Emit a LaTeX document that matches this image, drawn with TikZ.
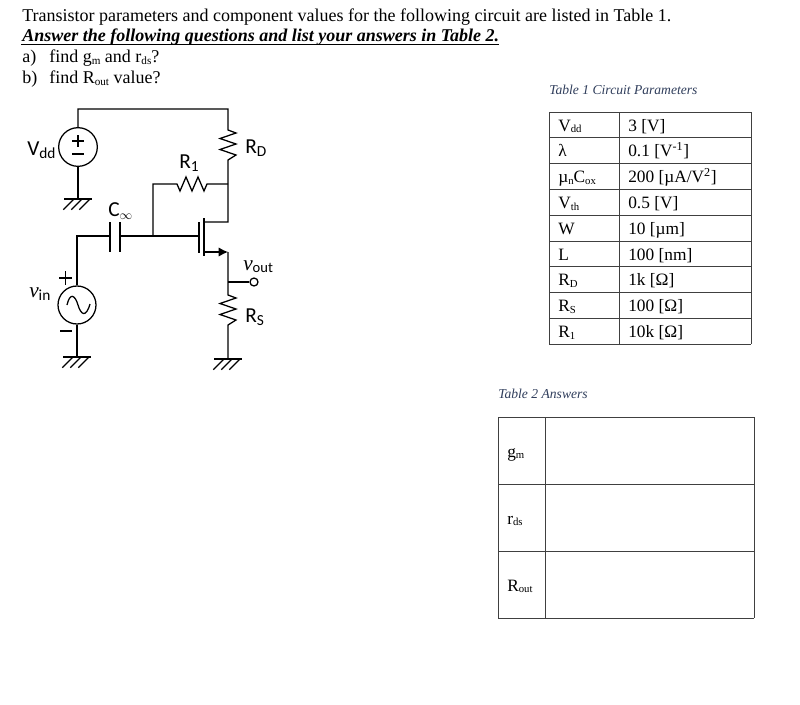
\documentclass[tikz,border=0pt]{standalone}
\usepackage{fontspec}
\setmainfont{Liberation Serif}
\setsansfont{Carlito}
\usetikzlibrary{arrows.meta}
\newcommand{\sbs}[1]{\raisebox{-0.25ex}{\scalebox{0.62}{#1}}}
\newcommand{\lsb}[1]{\raisebox{-0.3ex}{\scalebox{0.72}{#1}}}
\definecolor{captcol}{RGB}{48,62,92}
\tikzset{
  x=0.75pt,y=-0.75pt,
  wire/.style={line width=0.95pt,line join=miter},
  tline/.style={line width=0.75pt,draw=black!75},
  txt/.style={anchor=base west,inner sep=0pt,font=\fontsize{13.5pt}{15pt}\selectfont},
  cell/.style={anchor=base west,inner sep=0pt,font=\fontsize{13pt}{15pt}\selectfont},
  lbl/.style={anchor=base west,inner sep=0pt,font=\fontsize{16pt}{18pt}\sffamily},
  captxt/.style={anchor=base west,inner sep=0pt,text=captcol,font=\fontsize{10.2pt}{12pt}\itshape},
}
\newcommand{\gnd}[1]{%
  \draw[wire] ([xshift=-10.5pt]#1) -- ([xshift=10.5pt]#1);
  \foreach \d in {-3,3,9}{\draw[wire] ([xshift=\d pt]#1) -- ([xshift=\d pt-8pt,yshift=-8pt]#1);}
}
\begin{document}
\begin{tikzpicture}
\useasboundingbox (0,0) rectangle (800,704);
\fill[white] (0,0) rectangle (800,704);
% header text
\node[txt] (t1) at (22,21) {Transistor parameters and component values for the following circuit are listed in Table 1.};
\node[txt] (t2) at (22,41.5) {\bfseries\itshape Answer the following questions and list your answers in Table 2.};
\coordinate (u1) at (21,44.5); \coordinate (u2) at (499,44.5);
\draw[line width=1pt] (u1) -- (u2);
\node[txt] (t3a) at (22,62) {a)};
\node[txt] (t3) at (49,62) {find g\sbs{m} and r\sbs{ds}?};
\node[txt] (t4a) at (22,83) {b)};
\node[txt] (t4) at (49,83) {find R\sbs{out} value?};
% circuit nodes
\coordinate (top1) at (78,109);
\coordinate (top2) at (228,109);
\node[draw,wire,circle,minimum size=29pt,inner sep=0pt] (vdd) at (78,147) {};
\draw[line width=1pt] (72,141) -- (84,141) (78,135) -- (78,147) (72,154) -- (84,154);
\coordinate (g1) at (78,199);
\coordinate (rdt) at (228,130);
\coordinate (rdb) at (228,163);
\coordinate (j) at (228,184);
\coordinate (r1l) at (153,184);
\coordinate (gj) at (153,236);
\coordinate (d) at (228,222);
\coordinate (s) at (228,252);
\coordinate (o) at (228,282);
\coordinate (rst) at (228,295);
\coordinate (rsb) at (228,328);
\coordinate (g3) at (228,359);
\coordinate (cin) at (77,236);
\node[draw,wire,circle,minimum size=28.5pt,inner sep=0pt] (vin) at (77,305) {};
\coordinate (g2) at (77,357);
\draw[wire] (vdd.north) -- (top1) -- (top2) -- (rdt)
  -- ++(8,3) -- ++(-16,5.5) -- ++(16,5.5) -- ++(-16,5.5) -- ++(16,5.5) -- ++(-8,5) -- (rdb) -- (d) -- (204,222);
\draw[wire] (vdd.south) -- (g1);
\draw[wire] (j) -- (207,184) -- ++(-3,7) -- ++(-6,-14) -- ++(-6,14) -- ++(-6,-14) -- ++(-6,14) -- ++(-3,-7) -- (r1l) -- (gj);
\draw[wire] (vin.north) -- (cin) -- (110,236);
\draw[wire] (120,236) -- (199,236);
\draw[line width=1.2pt] (110,222) -- (110,252) (120,222) -- (120,252);
\draw[line width=1.5pt] (199,222) -- (199,253);
\draw[line width=1.2pt] (204,218) -- (204,256);
\draw[wire,-{Latex[length=7pt,width=7pt]}] (204,252) -- (s);
\draw[wire] (s) -- (rst)
  -- ++(8,3) -- ++(-16,5.5) -- ++(16,5.5) -- ++(-16,5.5) -- ++(16,5.5) -- ++(-8,5) -- (rsb) -- (g3);
\node[draw,wire,circle,minimum size=6pt,inner sep=0pt] (vo) at (254,282) {};
\draw[wire] (o) -- (vo);
\draw[wire] (vin.south) -- (g2);
\draw[wire] (67,305) .. controls (70,292) and (75,295) .. (78,305) .. controls (81,315) and (86,318) .. (90,304);
\draw[line width=1pt] (59,278) -- (72,278) (65.5,271) -- (65.5,285) (60,331) -- (72,331);
\gnd{g1}\gnd{g2}\gnd{g3}
% circuit labels
\node[lbl] (lvdd) at (27,155) {V\lsb{dd}};
\node[lbl] (lr1) at (179,168) {R\lsb{1}};
\node[lbl] (lrd) at (245,153) {R\lsb{D}};
\node[lbl] (lc) at (108,216) {C\raisebox{-0.3ex}{\scalebox{0.55}{$\infty$}}};
\node[lbl] (lvo) at (243,270) {{\rmfamily\itshape v}\scalebox{0.95}{\lsb{out}}};
\node[lbl] (lvi) at (29,297) {{\rmfamily\itshape v}\lsb{in}};
\node[lbl] (lrs) at (245,322) {R\lsb{S}};
% table 1
\node[captxt] (c1) at (549,94) {Table 1 Circuit Parameters};
\foreach \i in {0,...,9}{\draw[tline] (549,{112+\i*25.8}) -- (751,{112+\i*25.8});}
\draw[tline] (549,112) -- (549,344.2) (619,112) -- (619,344.2) (751,112) -- (751,344.2);
\foreach \i/\a/\b in {0/{V\sbs{dd}}/{3 [V]},1/{λ}/{0.1 [V\textsuperscript{-1}]},2/{µ\sbs{n}C\sbs{ox}}/{200 [µA/V\textsuperscript{2}]},3/{V\sbs{th}}/{0.5 [V]},4/{W}/{10 [µm]},5/{L}/{100 [nm]},6/{R\sbs{D}}/{1k [Ω]},7/{R\sbs{S}}/{100 [Ω]},8/{R\sbs{1}}/{10k [Ω]}}{
  \node[cell] (ta\i) at (558,{131+\i*25.8}) {\a};
  \node[cell] (tb\i) at (628,{131+\i*25.8}) {\b};
}
% table 2
\node[captxt] (c2) at (498,398) {Table 2 Answers};
\foreach \y in {417,484,551,618}{\draw[tline] (498,\y) -- (754,\y);}
\draw[tline] (498,417) -- (498,618) (545,417) -- (545,618) (754,417) -- (754,618);
\node[cell] (a1) at (507,457) {g\sbs{m}};
\node[cell] (a2) at (507,524) {r\sbs{ds}};
\node[cell] (a3) at (507,591) {R\sbs{out}};
\end{tikzpicture}
\end{document}
